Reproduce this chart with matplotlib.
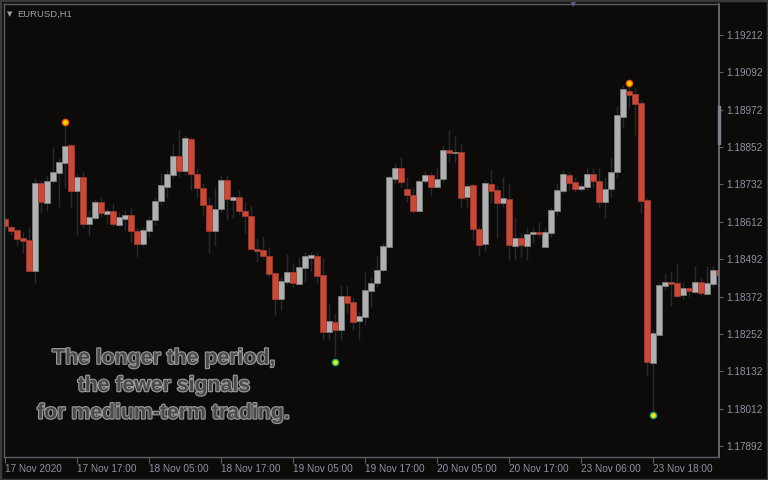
import matplotlib
matplotlib.use("Agg")
import matplotlib.pyplot as plt
import matplotlib.patheffects as pe
from matplotlib.patches import Rectangle
import numpy as np

# ---------------- data (EURUSD, H1) ----------------
opens = [1.18621, 1.18595, 1.18586, 1.18560, 1.18554, 1.18454, 1.18737, 1.18672, 1.18743, 1.18769,
         1.18801, 1.18859, 1.18711, 1.18756, 1.18605, 1.18624, 1.18676, 1.18637, 1.18647, 1.18602,
         1.18621, 1.18634, 1.18582, 1.18541, 1.18582, 1.18618, 1.18679, 1.18724, 1.18762, 1.18823,
         1.18775, 1.18878, 1.18765, 1.18721, 1.18666, 1.18582, 1.18653, 1.18746, 1.18682, 1.18692,
         1.18647, 1.18631, 1.18525, 1.18522, 1.18502, 1.18448, 1.18364, 1.18419, 1.18451, 1.18412,
         1.18464, 1.18496, 1.18502, 1.18441, 1.18258, 1.18290, 1.18265, 1.18374, 1.18355, 1.18294,
         1.18306, 1.18390, 1.18416, 1.18457, 1.18531, 1.18749, 1.18785, 1.18717, 1.18698, 1.18647,
         1.18743, 1.18762, 1.18724, 1.18749, 1.18843, 1.18833, 1.18836, 1.18692, 1.18730, 1.18589,
         1.18541, 1.18733, 1.18714, 1.18672, 1.18685, 1.18534, 1.18560, 1.18534, 1.18573, 1.18579,
         1.18531, 1.18576, 1.18647, 1.18711, 1.18762, 1.18740, 1.18717, 1.18724, 1.18765, 1.18743,
         1.18676, 1.18717, 1.18772, 1.18948, 1.19032, 1.19022, 1.18993, 1.18682, 1.18159, 1.18249,
         1.18406, 1.18419, 1.18416, 1.18377, 1.18400, 1.18387, 1.18419, 1.18380, 1.18412, 1.18457]
highs = [1.18627, 1.18602, 1.18589, 1.18579, 1.18595, 1.18753, 1.18746, 1.18762, 1.18852, 1.18817,
         1.18923, 1.18862, 1.18769, 1.18772, 1.18650, 1.18685, 1.18692, 1.18656, 1.18672, 1.18644,
         1.18650, 1.18656, 1.18592, 1.18595, 1.18627, 1.18692, 1.18769, 1.18778, 1.18862, 1.18907,
         1.18891, 1.18884, 1.18785, 1.18737, 1.18692, 1.18724, 1.18762, 1.18762, 1.18698, 1.18714,
         1.18676, 1.18666, 1.18560, 1.18566, 1.18531, 1.18451, 1.18435, 1.18509, 1.18480, 1.18499,
         1.18515, 1.18515, 1.18515, 1.18496, 1.18351, 1.18319, 1.18409, 1.18409, 1.18371, 1.18322,
         1.18451, 1.18435, 1.18502, 1.18544, 1.18762, 1.18801, 1.18820, 1.18756, 1.18721, 1.18749,
         1.18778, 1.18772, 1.18785, 1.18859, 1.18907, 1.18887, 1.18862, 1.18737, 1.18737, 1.18599,
         1.18746, 1.18778, 1.18730, 1.18756, 1.18737, 1.18627, 1.18576, 1.18592, 1.18595, 1.18611,
         1.18592, 1.18660, 1.18737, 1.18778, 1.18772, 1.18756, 1.18737, 1.18785, 1.18785, 1.18785,
         1.18756, 1.18820, 1.18984, 1.19051, 1.19048, 1.19042, 1.19003, 1.18688, 1.18268, 1.18419,
         1.18448, 1.18454, 1.18477, 1.18419, 1.18403, 1.18470, 1.18435, 1.18470, 1.18473, 1.18473]
lows = [1.18589, 1.18570, 1.18534, 1.18512, 1.18451, 1.18416, 1.18640, 1.18647, 1.18737, 1.18660,
        1.18721, 1.18660, 1.18570, 1.18595, 1.18566, 1.18618, 1.18627, 1.18608, 1.18599, 1.18595,
        1.18586, 1.18547, 1.18499, 1.18531, 1.18563, 1.18602, 1.18666, 1.18688, 1.18753, 1.18756,
        1.18762, 1.18714, 1.18688, 1.18634, 1.18512, 1.18534, 1.18644, 1.18618, 1.18624, 1.18637,
        1.18576, 1.18522, 1.18483, 1.18496, 1.18435, 1.18313, 1.18329, 1.18409, 1.18403, 1.18409,
        1.18419, 1.18451, 1.18416, 1.18233, 1.18233, 1.18178, 1.18233, 1.18319, 1.18265, 1.18233,
        1.18281, 1.18339, 1.18403, 1.18451, 1.18528, 1.18737, 1.18724, 1.18676, 1.18640, 1.18644,
        1.18737, 1.18698, 1.18721, 1.18740, 1.18804, 1.18801, 1.18656, 1.18656, 1.18554, 1.18505,
        1.18518, 1.18672, 1.18560, 1.18660, 1.18489, 1.18489, 1.18499, 1.18489, 1.18544, 1.18563,
        1.18531, 1.18563, 1.18631, 1.18704, 1.18714, 1.18708, 1.18708, 1.18714, 1.18721, 1.18660,
        1.18624, 1.18692, 1.18753, 1.18913, 1.18977, 1.18891, 1.18640, 1.18120, 1.18001, 1.18245,
        1.18393, 1.18342, 1.18371, 1.18364, 1.18371, 1.18383, 1.18377, 1.18377, 1.18403, 1.18425]
closes = [1.18599, 1.18582, 1.18557, 1.18550, 1.18454, 1.18737, 1.18676, 1.18743, 1.18772, 1.18804,
          1.18855, 1.18711, 1.18756, 1.18605, 1.18627, 1.18676, 1.18640, 1.18647, 1.18605, 1.18627,
          1.18634, 1.18582, 1.18541, 1.18586, 1.18618, 1.18679, 1.18730, 1.18765, 1.18823, 1.18775,
          1.18881, 1.18765, 1.18721, 1.18666, 1.18582, 1.18653, 1.18746, 1.18685, 1.18692, 1.18647,
          1.18631, 1.18525, 1.18518, 1.18502, 1.18444, 1.18364, 1.18422, 1.18451, 1.18416, 1.18467,
          1.18502, 1.18505, 1.18438, 1.18258, 1.18294, 1.18265, 1.18374, 1.18351, 1.18290, 1.18310,
          1.18393, 1.18416, 1.18457, 1.18534, 1.18756, 1.18785, 1.18740, 1.18698, 1.18647, 1.18743,
          1.18762, 1.18724, 1.18749, 1.18843, 1.18833, 1.18836, 1.18688, 1.18727, 1.18589, 1.18538,
          1.18737, 1.18711, 1.18672, 1.18688, 1.18538, 1.18560, 1.18538, 1.18573, 1.18579, 1.18573,
          1.18579, 1.18650, 1.18714, 1.18765, 1.18737, 1.18717, 1.18727, 1.18765, 1.18743, 1.18676,
          1.18717, 1.18772, 1.18955, 1.19038, 1.19019, 1.18990, 1.18679, 1.18162, 1.18255, 1.18409,
          1.18419, 1.18412, 1.18374, 1.18400, 1.18390, 1.18419, 1.18383, 1.18416, 1.18457, 1.18441]

# signal dots (bar index, price)
top_signal_bars = [10, 104]
top_signal_prices = [1.18932, 1.19058]
bottom_signal_bars = [55, 108]
bottom_signal_prices = [1.18162, 1.17992]

# axis labels
price_ticks = [1.19212, 1.19092, 1.18972, 1.18852, 1.18732, 1.18612,
               1.18492, 1.18372, 1.18252, 1.18132, 1.18012, 1.17892]
time_tick_bars = [0, 12, 24, 36, 48, 60, 72, 84, 96, 108]
time_tick_labels = ["17 Nov 2020", "17 Nov 17:00", "18 Nov 05:00", "18 Nov 17:00",
                    "19 Nov 05:00", "19 Nov 17:00", "20 Nov 05:00", "20 Nov 17:00",
                    "23 Nov 06:00", "23 Nov 18:00"]
title = "EURUSD,H1"
overlay_lines = ["The longer the period,", "the fewer signals", "for medium-term trading."]

# ---------------- style ----------------
BG = "#0d0b09"
BULL = "#b0b0b0"
BULL_EDGE = "#7c7c7c"
BEAR = "#c64a3a"
BEAR_EDGE = "#a63d30"
WICK = "#262a34"
AXC = "#8c93a3"
FRAME = "#5c5f66"

fig = plt.figure(figsize=(7.68, 4.80), dpi=100, facecolor=BG)
ax = fig.add_axes([4 / 768, 23 / 480, 715 / 768, 453 / 480])
ax.set_facecolor(BG)

x = np.arange(len(opens))
o = np.array(opens); h = np.array(highs); l = np.array(lows); c = np.array(closes)
bull = c >= o

ax.vlines(x, l, h, color=WICK, linewidth=1.0, zorder=1)
body_bottom = np.minimum(o, c)
body_h = np.maximum(np.abs(c - o), 0.00004)
ax.bar(x[bull], body_h[bull], bottom=body_bottom[bull], width=0.84,
       color=BULL, edgecolor=BULL_EDGE, linewidth=0.6, zorder=2)
ax.bar(x[~bull], body_h[~bull], bottom=body_bottom[~bull], width=0.84,
       color=BEAR, edgecolor=BEAR_EDGE, linewidth=0.5, zorder=2)

ax.scatter(top_signal_bars, top_signal_prices, s=20, facecolor="#ffd000",
           edgecolor="#e05a10", linewidth=1.0, zorder=4)
ax.scatter(bottom_signal_bars, bottom_signal_prices, s=20, facecolor="#e8f020",
           edgecolor="#2aa070", linewidth=1.0, zorder=4)

ax.set_xlim(-0.17, 119.0)
ax.set_ylim(1.17857, 1.19311)

# y axis on right
ax.yaxis.tick_right()
ax.set_yticks(price_ticks)
ax.set_yticklabels([f"{p:.5f}" for p in price_ticks])
ax.tick_params(axis="y", colors=FRAME, labelcolor=AXC, length=3, width=0.8,
               labelsize=7.2, pad=2)
ax.set_xticks(time_tick_bars)
ax.set_xticklabels(time_tick_labels, ha="left")
ax.tick_params(axis="x", colors=FRAME, labelcolor=AXC, length=4, width=0.8,
               labelsize=7.2, pad=1)
for lab in ax.get_xticklabels() + ax.get_yticklabels():
    lab.set_fontfamily("Liberation Sans")

for side in ["left", "top", "bottom"]:
    ax.spines[side].set_color(FRAME)
    ax.spines[side].set_linewidth(1.0)
ax.spines["right"].set_color("#6e7584")
ax.spines["right"].set_linewidth(1.2)

# header
ax.text(0.004, 0.985, "\u25BC", transform=ax.transAxes, color="#9aa2b2",
        fontsize=5, va="top", ha="left", family="DejaVu Sans")
ax.text(0.018, 0.988, title, transform=ax.transAxes, color="#9aa2b2",
        fontsize=6.8, va="top", ha="left", family="Liberation Sans")

# shift marker on top
ax.text(0.796, 1.0, "\u25BC", transform=ax.transAxes, color="#56608a",
        fontsize=6, va="center", ha="center", family="DejaVu Sans", clip_on=False)

# scroll mark at right axis
ax.add_patch(Rectangle((0.9985, 0.691), 0.0035, 0.084, transform=ax.transAxes,
                       color="#7a8294", clip_on=False, zorder=5))

# overlay text
for i, line in enumerate(overlay_lines):
    ax.text(0.224, 0.218 - i * 0.0605, line, transform=ax.transAxes,
            ha="center", va="center", fontsize=15.3, fontweight="bold",
            family="Liberation Sans", color="#4a4a4a", zorder=6,
            path_effects=[pe.withStroke(linewidth=1.6, foreground="#9c9c9c")])

# outer border
fig.patches.append(Rectangle((0, 0), 1, 1, transform=fig.transFigure, fill=False,
                             edgecolor="#3a3a3a", linewidth=2.5))

fig.savefig("out.png", dpi=100, facecolor=BG)
